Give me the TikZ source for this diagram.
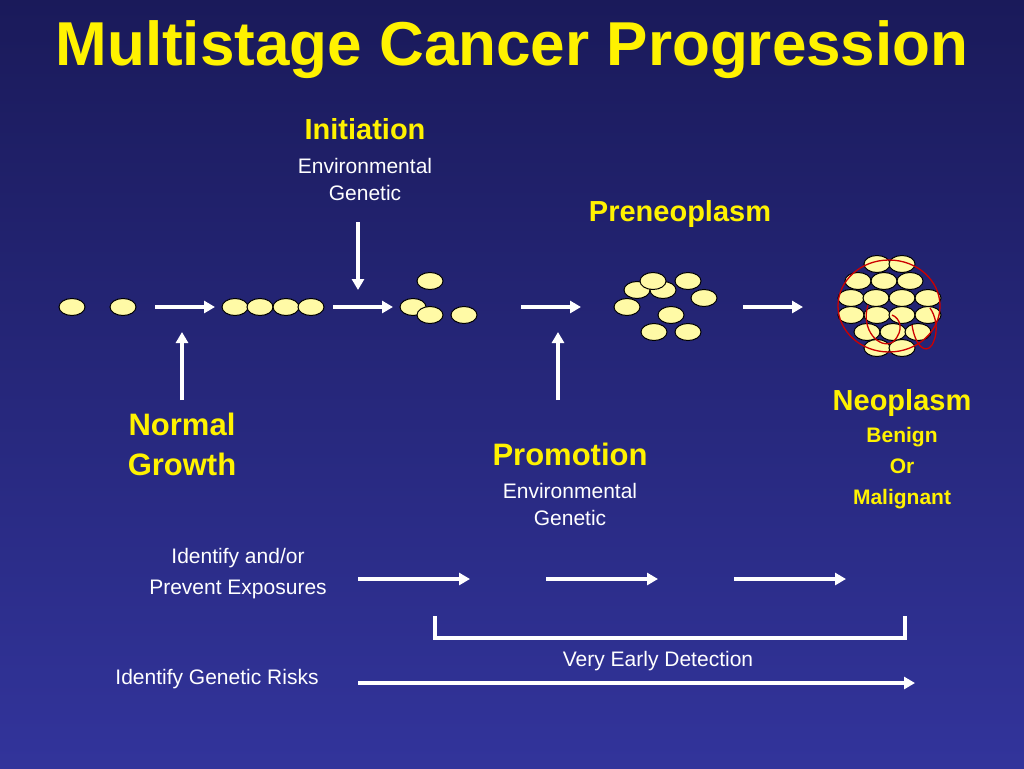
\documentclass[tikz,border=0pt]{standalone}
\usepackage{fontspec}
\setmainfont{Liberation Sans}
\usetikzlibrary{arrows.meta,shapes.geometric}
\begin{document}
\begin{tikzpicture}[x=1pt,y=-1pt,
 cell/.style={draw=black,line width=1pt,fill=yellow!35!white,ellipse,minimum width=26pt,minimum height=17pt,inner sep=0pt},
 arr/.style={draw=white,line width=3.2pt,-{Triangle[length=11pt,width=12pt]}},
 ytxt/.style={text=yellow,font=\bfseries,align=center},
 wtxt/.style={text=white,align=center,font=\fontsize{21}{27}\selectfont}]
\shade[top color={rgb,255:red,26;green,26;blue,90},bottom color={rgb,255:red,50;green,52;blue,155}] (0,0) rectangle (1024,768);
\useasboundingbox (0,0) rectangle (1024,768);
\node[ytxt,font=\bfseries\fontsize{62}{66}\selectfont] (title) at (512,50) {Multistage Cancer Progression};
% cells
\foreach \n/\x/\y in {a1/72/307,a2/123/307,b1/235/307,b2/260/307,b3/286/307,b4/311/307,
 c1/430/281,c2/413/307,c3/430/315,c4/464/315,
 d1/637/290,d2/663/290,d3/653/281,d4/688/281,d5/704/298,d6/627/307,d7/671/315,d8/654/332,d9/688/332,
 e1/877/264,e2/902/264,e3/858/281,e4/884/281,e5/910/281,e6/851/298,e7/876/298,e8/902/298,e9/928/298,
 e10/851/315,e11/877/315,e12/902/315,e13/928/315,e14/867/332,e15/893/332,e16/918/332,e17/877/348,e18/902/348}
 \node[cell] (\n) at (\x,\y) {};
% red outlines
\draw[red!80!black,line width=1.3pt] (889,306) ellipse (51pt and 46pt);
\draw[red!80!black,line width=1.3pt] (868,305) .. controls (860,330) and (880,350) .. (893,342) .. controls (905,330) and (900,318) .. (892,315);
\draw[red!80!black,line width=1.3pt] (912,325) .. controls (915,345) and (925,355) .. (932,345) .. controls (940,330) and (935,315) .. (930,308);
% arrows
\coordinate (r1s) at (155,307); \coordinate (r1e) at (215,307);
\coordinate (r2s) at (333,307); \coordinate (r2e) at (393,307);
\coordinate (r3s) at (521,307); \coordinate (r3e) at (581,307);
\coordinate (r4s) at (743,307); \coordinate (r4e) at (803,307);
\draw[arr] (r1s) -- (r1e); \draw[arr] (r2s) -- (r2e); \draw[arr] (r3s) -- (r3e); \draw[arr] (r4s) -- (r4e);
\coordinate (u1) at (182,400); \coordinate (u1e) at (182,332);
\coordinate (u2) at (558,400); \coordinate (u2e) at (558,332);
\coordinate (dn) at (358,222); \coordinate (dne) at (358,290);
\draw[arr] (u1) -- (u1e); \draw[arr] (u2) -- (u2e); \draw[arr] (dn) -- (dne);
% texts
\node[ytxt,font=\bfseries\fontsize{29}{34}\selectfont] (init) at (365,129) {Initiation};
\node[wtxt] (initsub) at (365,179) {Environmental\\Genetic};
\node[ytxt,font=\bfseries\fontsize{29}{34}\selectfont] (pre) at (680,214) {Preneoplasm};
\node[ytxt,font=\bfseries\fontsize{31}{40}\selectfont] (norm) at (182,444) {Normal\\Growth};
\node[ytxt,font=\bfseries\fontsize{31}{36}\selectfont] (prom) at (570,454) {Promotion};
\node[wtxt] (promsub) at (570,504) {Environmental\\Genetic};
\node[ytxt,font=\bfseries\fontsize{29}{34}\selectfont] (neo) at (902,403) {Neoplasm};
\node[ytxt,font=\bfseries\fontsize{21}{31}\selectfont] (neosub) at (902,468) {Benign\\Or\\Malignant};
\node[wtxt,font=\fontsize{21}{31}\selectfont] (idp) at (238,574) {Identify and/or\\Prevent Exposures};
\node[wtxt] (idg) at (217,679) {Identify Genetic Risks};
\node[wtxt] (ved) at (658,661) {Very Early Detection};
\coordinate (p1s) at (358,579); \coordinate (p1e) at (470,579);
\coordinate (p2s) at (546,579); \coordinate (p2e) at (658,579);
\coordinate (p3s) at (734,579); \coordinate (p3e) at (846,579);
\draw[arr] (p1s) -- (p1e); \draw[arr] (p2s) -- (p2e); \draw[arr] (p3s) -- (p3e);
\coordinate (gs) at (358,683); \coordinate (ge) at (915,683);
\draw[arr] (gs) -- (ge);
\coordinate (b1) at (435,616); \coordinate (b2) at (435,638); \coordinate (b3) at (905,638); \coordinate (b4) at (905,616);
\draw[white,line width=3.2pt] (b1) -- (b2) -- (b3) -- (b4);
\end{tikzpicture}
\end{document}
